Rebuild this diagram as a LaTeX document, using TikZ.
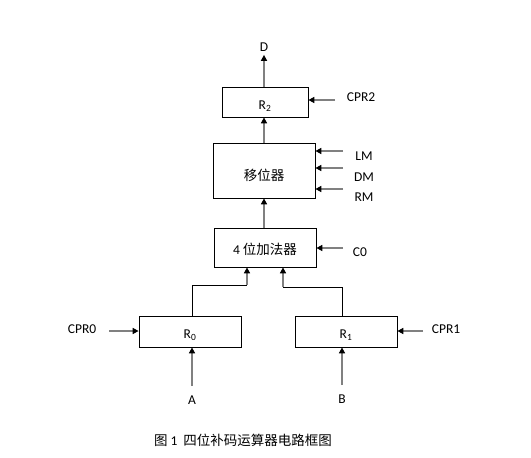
\documentclass[tikz,border=0pt]{standalone}
\usepackage{fontspec}
\setmainfont{Carlito}
\newfontfamily\cjk{Noto Sans CJK SC}
\usetikzlibrary{arrows.meta,positioning}

\begin{document}
\begin{tikzpicture}[x=1pt,y=-1pt,font=\fontsize{13.5}{16}\selectfont,
	blk/.style={draw,line width=0.75pt,inner sep=0pt,minimum width=102pt,text height=14pt,text depth=0pt},
	sig/.style={draw=black!50,line width=1.6pt,-{Triangle[length=6pt,width=6pt,color=black]}},
	wire/.style={draw,line width=0.75pt}]
	\useasboundingbox (0,0) rectangle (531,458);
	
	\node[blk, minimum width=86pt, minimum height=30pt] (r2) at (265,102) {R\textsubscript{2}};
	\node[blk, minimum height=55pt, text height=20pt] (shift) at (264,170.5) {\cjk 移位器};
	\node[blk, minimum height=39pt] (add) at (265,247.5) {4 {\cjk 位加法器}};
	\node[blk, minimum height=31pt] (r0) at (190,331.5) {R\textsubscript{0}};
	\node[blk, minimum height=31pt] (r1) at (346,331.5) {R\textsubscript{1}};
	
	\node (d) at (264,47) {D};
	\node (a) at (192,400) {A};
	\node (b) at (342,399) {B};
	\node (cpr2) at (361,97) {CPR2};
	\node (lm) at (364,156.5) {LM};
	\node (dm) at (364,177) {DM};
	\node (rm) at (364,197) {RM};
	\node (c0) at (360,252) {C0};
	\node (cpr0) at (82,329) {CPR0};
	\node (cpr1) at (446,329) {CPR1};
	
	% free ends of the side inputs
	\coordinate (cpr2in) at (335,100);
	\coordinate (lmin) at (343,151);
	\coordinate (dmin) at (343,168);
	\coordinate (rmin) at (343,189);
	\coordinate (c0in) at (343,248);
	\coordinate (cpr0in) at (109,331);
	\coordinate (cpr1in) at (423,331);
	\coordinate (lj) at (247,285);
	\coordinate (rj) at (283,287);
	
	\draw[sig] (r2.north -| d) -- (d);
	\draw[sig] (shift.north) -- (shift.north |- r2.south);
	\draw[sig] (add.north -| shift.north) -- (shift.south);
	\foreach \s/\t in {cpr2in/r2.east,lmin/shift.east,dmin/shift.east,rmin/shift.east,c0in/add.east,cpr1in/r1.east,cpr0in/r0.west}
		\draw[sig] (\s) -- (\s -| \t);
	\draw[sig, shorten <=6pt] (a) -- (a |- r0.south);
	\draw[sig, shorten <=6pt] (b) -- (b |- r1.south);
	
	\draw[wire] (a |- r0.north) |- (lj);
	\draw[sig] (lj) -- (lj |- add.south);
	\draw[wire] (b |- r1.north) |- (rj);
	\draw[sig] (rj) -- (rj |- add.south);
	
	\node (cap) at (243,440) {{\cjk 图}\ 1\ \ {\cjk 四位补码运算器电路框图}};
\end{tikzpicture}
\end{document}
